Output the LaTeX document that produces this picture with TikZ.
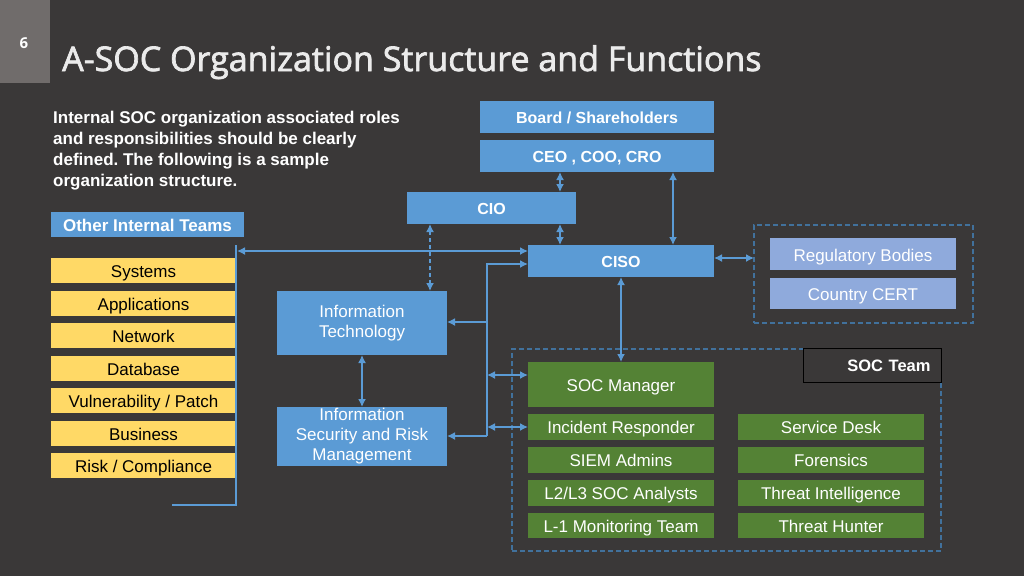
\documentclass[tikz,border=0pt]{standalone}
\usepackage{fontspec}
\setmainfont{Liberation Sans}
\newfontfamily\titlefont[FakeBold=2]{Open Sans}
\newfontfamily\numfont{Open Sans}
\usetikzlibrary{arrows.meta}
\frenchspacing
\definecolor{bgc}{RGB}{58,56,56}
\definecolor{numc}{RGB}{112,108,107}
\definecolor{blu}{RGB}{91,155,213}
\definecolor{lblu}{RGB}{143,170,220}
\definecolor{grn}{RGB}{84,130,53}
\definecolor{yel}{RGB}{255,217,102}
\definecolor{dsh}{RGB}{65,113,156}
\tikzset{
  bx/.style={inner sep=0pt, outer sep=0pt, anchor=north west, align=center},
  bluebox/.style={bx, fill=blu, text=white, text height=12.6pt, text depth=0pt, font=\fontsize{16}{19}\selectfont\bfseries},
  itbox/.style={bx, fill=blu, text=white, font=\fontsize{17}{20}\selectfont},
  regbox/.style={bx, fill=lblu, text=white, text height=14pt, text depth=0pt, font=\fontsize{17}{20}\selectfont},
  yelbox/.style={bx, fill=yel, text=black, minimum width=185pt, minimum height=25pt, text height=13.6pt, text depth=0pt, font=\fontsize{17}{20}\selectfont},
  grnbox/.style={bx, fill=grn, text=white, minimum width=186pt, minimum height=25.5pt, text height=14pt, text depth=0pt, font=\fontsize{17}{20}\selectfont},
  dashbox/.style={bx, draw=dsh, dashed, line width=1.1pt, dash pattern=on 5pt off 3pt},
  conn/.style={draw=blu, line width=1.5pt},
  dar/.style={conn, {Latex[length=8pt,width=8pt]}-{Latex[length=8pt,width=8pt]}},
  sar/.style={conn, -{Latex[length=8pt,width=8pt]}}
}
\begin{document}
\begin{tikzpicture}[x=1pt,y=-1pt]
\fill[bgc] (0,0) rectangle (1024,576);
\useasboundingbox (0,0) rectangle (1024,576);
% slide number and title
\node[bx, fill=numc, minimum width=50pt, minimum height=83pt] (numbox) at (0,0) {};
\node[text=white, font=\fontsize{15}{18}\selectfont\bfseries\numfont] (num) at (24,43) {6};
\node[anchor=base west, inner sep=0pt, text=white!92!black, font=\fontsize{34}{38}\selectfont\titlefont] (title) at (62,71) {A-SOC Organization Structure and Functions};
% intro text
\node[anchor=north west, inner sep=0pt, align=left, text=white, font=\fontsize{17}{21}\selectfont\bfseries] (intro) at (53,111) {Internal SOC organization associated roles\\and responsibilities should be clearly\\defined. The following is a sample\\organization structure.};
% top hierarchy
\node[bluebox, minimum width=234pt, minimum height=32pt] (board) at (480,101) {Board / Shareholders};
\node[bluebox, minimum width=234pt, minimum height=32pt] (ceo) at (480,140) {CEO , COO, CRO};
\node[bluebox, minimum width=169pt, minimum height=32pt] (cio) at (407,192) {CIO};
\node[bluebox, minimum width=186pt, minimum height=32pt] (ciso) at (528,245) {CISO};
% other internal teams
\node[bluebox, minimum width=193pt, minimum height=25pt, text height=13.4pt, font=\fontsize{17}{20}\selectfont\bfseries] (oit) at (51,212) {Other Internal Teams};
\node[yelbox] (sys) at (51,258) {Systems};
\node[yelbox] (app) at (51,291) {Applications};
\node[yelbox] (net) at (51,323) {Network};
\node[yelbox] (db) at (51,356) {Database};
\node[yelbox] (vul) at (51,388) {Vulnerability / Patch};
\node[yelbox] (bus) at (51,421) {Business};
\node[yelbox] (risk) at (51,453) {Risk / Compliance};
% IT and ISRM
\node[itbox, minimum width=170pt, minimum height=64pt] (it) at (277,291) {Information\\Technology};
\node[itbox, minimum width=170pt, minimum height=59pt] (isrm) at (277,407) {Information\\Security and Risk\\Management};
% regulators
\node[dashbox, minimum width=219pt, minimum height=98pt] (regd) at (754,225) {};
\node[regbox, minimum width=186pt, minimum height=32pt] (reg) at (770,238) {Regulatory Bodies};
\node[regbox, minimum width=186pt, minimum height=31pt] (cert) at (770,278) {Country CERT};
% SOC team
\node[dashbox, minimum width=429pt, minimum height=202pt] (socd) at (512,349) {};
\node[bx, draw=black, line width=1pt, fill=bgc, minimum width=138pt, minimum height=34pt, text width=117pt, align=right, text height=13pt, text depth=0pt, text=white, font=\fontsize{16.5}{19}\selectfont\bfseries] (soct) at (803,348) {SOC Team};
\node[grnbox, minimum height=45pt] (socm) at (528,362) {SOC Manager};
\node[grnbox] (ir) at (528,414) {Incident Responder};
\node[grnbox] (siem) at (528,447) {SIEM Admins};
\node[grnbox] (l23) at (528,480) {L2/L3 SOC Analysts};
\node[grnbox] (l1) at (528,512.5) {L-1 Monitoring Team};
\node[grnbox] (sd) at (738,414) {Service Desk};
\node[grnbox] (for) at (738,447) {Forensics};
\node[grnbox] (ti) at (738,480) {Threat Intelligence};
\node[grnbox] (th) at (738,512.5) {Threat Hunter};
% coordinates
\coordinate (x560) at (560,0);
\coordinate (x673) at (673,0);
\coordinate (x621) at (621,0);
\coordinate (x430) at (430,0);
\coordinate (x362) at (362,0);
\coordinate (brT) at (236,245);
\coordinate (brB) at (236,505);
\coordinate (brE) at (172,505);
\coordinate (la) at (237,251);
\coordinate (busT) at (487,264);
\coordinate (busIT) at (487,322);
\coordinate (busB) at (487,436);
\coordinate (busS) at (487,375);
\coordinate (busR) at (487,427);
\coordinate (rg) at (714,258);
% connectors
\draw[dar] (ceo.south -| x560) -- (cio.north -| x560);
\draw[dar] (cio.south -| x560) -- (ciso.north -| x560);
\draw[dar] (ceo.south -| x673) -- (ciso.north -| x673);
\draw[dar] (ciso.south -| x621) -- (socm.north -| x621);
\draw[dar] (rg) -- (rg -| regd.west);
\draw[conn, line width=1.2pt] (brT) -- (brB) -- (brE);
\draw[dar] (la) -- (la -| ciso.west);
\draw[dar, dashed, dash pattern=on 4pt off 3pt] (cio.south -| x430) -- (it.north -| x430);
\draw[dar] (it.south -| x362) -- (isrm.north -| x362);
\draw[sar] (busB) -- (busT) -- (busT -| ciso.west);
\draw[sar] (busIT) -- (busIT -| it.east);
\draw[sar] (busB) -- (busB -| isrm.east);
\draw[dar] (busS) -- (busS -| socm.west);
\draw[dar] (busR) -- (busR -| ir.west);
\end{tikzpicture}
\end{document}
